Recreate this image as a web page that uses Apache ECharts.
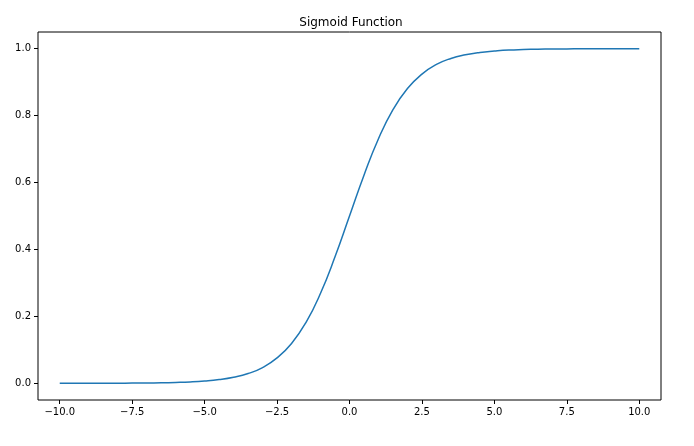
<!DOCTYPE html>
<html>
<head>
<meta charset="UTF-8">
<script src="https://cdn.jsdelivr.net/npm/echarts@6/dist/echarts.min.js"></script>
<style>html,body{margin:0;background:#fff}</style>
</head>
<body>
<div id="main" style="width:694px;height:446px;"></div>
<script>
// values
var xs = [-10,-9.5,-9,-8.5,-8,-7.5,-7,-6.5,-6,-5.5,-5,-4.5,-4,-3.5,-3,-2.5,-2,-1.5,-1,-0.5,0,
          0.5,1,1.5,2,2.5,3,3.5,4,4.5,5,5.5,6,6.5,7,7.5,8,8.5,9,9.5,10];
var ys = [0.00005,0.00007,0.0001,0.0002,0.0003,0.0006,0.0009,0.0015,0.0025,0.004,0.0067,0.011,0.018,0.029,0.047,0.076,0.119,0.182,0.269,0.378,0.5,
          0.622,0.731,0.818,0.881,0.924,0.953,0.971,0.982,0.989,0.993,0.996,0.9975,0.9985,0.9991,0.9994,0.9997,0.9998,0.9999,0.99993,0.99995];
var xTicks = [-10,-7.5,-5,-2.5,0,2.5,5,7.5,10];
var yTicks = [0,0.2,0.4,0.6,0.8,1.0];

var chart = echarts.init(document.getElementById('main'));
var font = 'DejaVu Sans';
chart.setOption({
    animation: false,
    title: {text: 'Sigmoid Function', left: 346, top: 12, textAlign: 'center',
        textStyle: {fontFamily: font, fontSize: 12, fontWeight: 'normal', color: '#000'}},
    grid: {left: 38, right: 33, top: 32, bottom: 46, show: true, borderColor: '#000', borderWidth: 1},
    xAxis: {
        type: 'value', min: -10.75, max: 10.75,
        axisLine: {show: false, onZero: false},
        axisTick: {show: true, customValues: xTicks, length: 4, lineStyle: {color: '#000'}},
        axisLabel: {customValues: xTicks, fontFamily: font, fontSize: 10, color: '#000', margin: 7,
            formatter: function (v) { return v.toFixed(1).replace('-', '\u2212'); }},
        splitLine: {show: false}
    },
    yAxis: {
        type: 'value', min: -0.05, max: 1.05,
        axisLine: {show: false, onZero: false},
        axisTick: {show: true, customValues: yTicks, length: 4, lineStyle: {color: '#000'}},
        axisLabel: {customValues: yTicks, fontFamily: font, fontSize: 10, color: '#000', margin: 7,
            formatter: function (v) { return v.toFixed(1); }},
        splitLine: {show: false}
    },
    series: [{
        type: 'line', smooth: true, showSymbol: false,
        lineStyle: {color: '#1f77b4', width: 1.5},
        data: xs.map(function (x, i) { return [x, ys[i]]; })
    }]
});
</script>
</body>
</html>
